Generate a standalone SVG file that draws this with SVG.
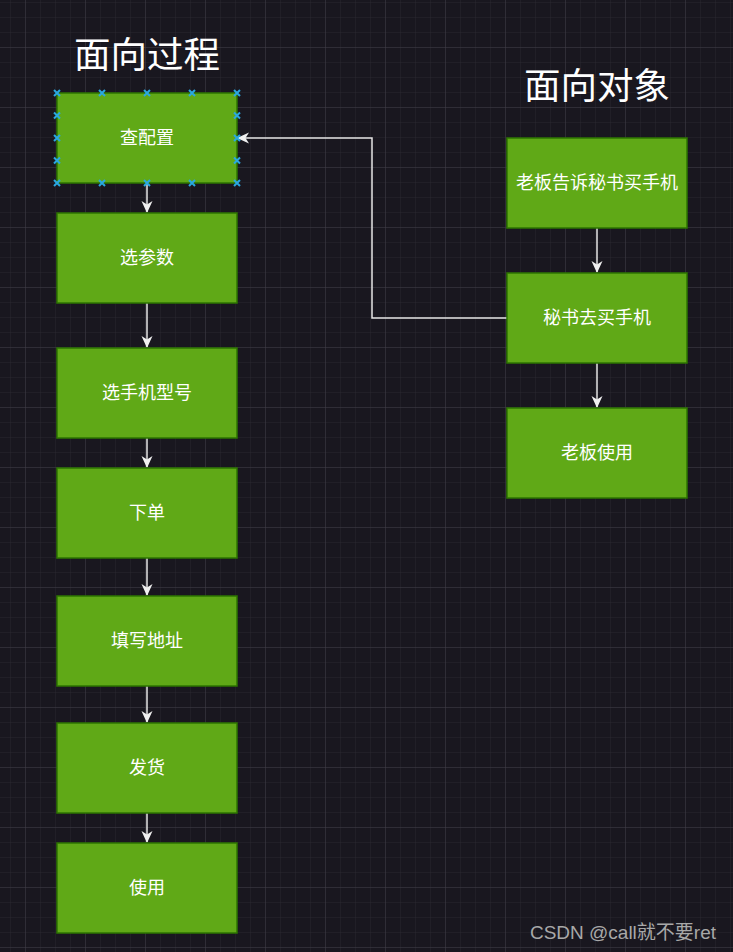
<svg xmlns="http://www.w3.org/2000/svg" width="733" height="952" viewBox="0 0 733 952">
<defs>
<pattern id="minor" x="10" y="2" width="15" height="15" patternUnits="userSpaceOnUse">
<path d="M0 0H15M0 0V15" fill="none" stroke="#2a2830" stroke-width="1"/>
</pattern>
<pattern id="major" x="25" y="47" width="60" height="60" patternUnits="userSpaceOnUse">
<path d="M0 0H60M0 0V60" fill="none" stroke="#3e3c45" stroke-width="1"/>
</pattern>
<marker id="arr" viewBox="0 0 12 12" refX="11" refY="6" markerWidth="12" markerHeight="12" markerUnits="userSpaceOnUse" orient="auto">
<path d="M0 0.5L12 6L0 11.5L3.5 6Z" fill="#f0f0f0"/>
</marker>
<g id="hx"><path d="M-3 -3L3 3M-3 3L3 -3" stroke="#2aa8e0" stroke-width="2"/></g>
</defs>
<style>
.node rect{fill:#60a917;stroke:#2d7600;stroke-width:1.5}
.node text{fill:#ffffff;font-family:"Noto Sans CJK SC","Liberation Sans",sans-serif;font-size:18px;text-anchor:middle;dominant-baseline:central}
.title{fill:#ffffff;font-family:"Noto Sans CJK SC","Liberation Sans",sans-serif;font-size:36.5px;text-anchor:middle;dominant-baseline:central}
.conn path{fill:none;stroke:#e6e6e6;stroke-width:1.5;marker-end:url(#arr)}
</style>
<rect width="733" height="952" fill="#19171f"/>
<rect width="733" height="952" fill="url(#minor)"/>
<rect width="733" height="952" fill="url(#major)"/>

<text class="title" x="147" y="52">面向过程</text>
<text class="title" x="597" y="83">面向对象</text>

<g id="connectors" class="conn">
<path d="M147 183V212"/>
<path d="M147 303V347"/>
<path d="M147 438V467"/>
<path d="M147 558V595"/>
<path d="M147 686V722"/>
<path d="M147 813V842"/>
<path d="M597 228V272"/>
<path d="M597 363V407"/>
<path d="M507 318H372V138H238"/>
</g>

<g id="n1" class="node"><rect x="57" y="93" width="180" height="90"/><text x="147" y="136">查配置</text></g>
<g id="n2" class="node"><rect x="57" y="213" width="180" height="90"/><text x="147" y="256">选参数</text></g>
<g id="n3" class="node"><rect x="57" y="348" width="180" height="90"/><text x="147" y="391">选手机型号</text></g>
<g id="n4" class="node"><rect x="57" y="468" width="180" height="90"/><text x="147" y="511">下单</text></g>
<g id="n5" class="node"><rect x="57" y="596" width="180" height="90"/><text x="147" y="639">填写地址</text></g>
<g id="n6" class="node"><rect x="57" y="723" width="180" height="90"/><text x="147" y="766">发货</text></g>
<g id="n7" class="node"><rect x="57" y="843" width="180" height="90"/><text x="147" y="886">使用</text></g>
<g id="r1" class="node"><rect x="507" y="138" width="180" height="90"/><text x="597" y="181">老板告诉秘书买手机</text></g>
<g id="r2" class="node"><rect x="507" y="273" width="180" height="90"/><text x="597" y="316">秘书去买手机</text></g>
<g id="r3" class="node"><rect x="507" y="408" width="180" height="90"/><text x="597" y="451">老板使用</text></g>

<g id="selection">
<use href="#hx" x="57" y="93"/><use href="#hx" x="102" y="93"/><use href="#hx" x="147" y="93"/><use href="#hx" x="192" y="93"/><use href="#hx" x="237" y="93"/>
<use href="#hx" x="57" y="183"/><use href="#hx" x="102" y="183"/><use href="#hx" x="147" y="183"/><use href="#hx" x="192" y="183"/><use href="#hx" x="237" y="183"/>
<use href="#hx" x="57" y="115.5"/><use href="#hx" x="57" y="138"/><use href="#hx" x="57" y="160.5"/>
<use href="#hx" x="237" y="115.5"/><use href="#hx" x="237" y="138"/><use href="#hx" x="237" y="160.5"/>
</g>

<text x="716" y="932" fill="#a8a8a8" font-family="'Liberation Sans','Noto Sans CJK SC',sans-serif" font-size="19" text-anchor="end" dominant-baseline="central">CSDN @call就不要ret</text>
</svg>
